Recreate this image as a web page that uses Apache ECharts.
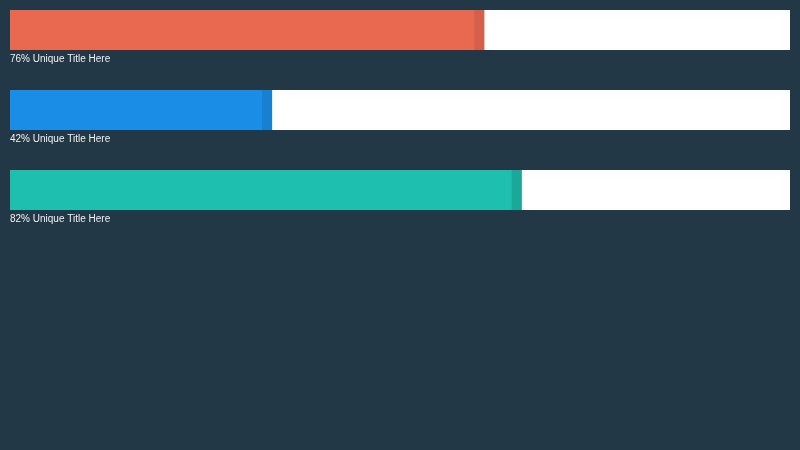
<!DOCTYPE html>
<html>
<head>
<meta charset="utf-8">
<script src="https://cdn.jsdelivr.net/npm/echarts@6/dist/echarts.min.js"></script>
<style>
html,body{margin:0;padding:0;background:#233847;}
#chart{width:800px;height:450px;}
</style>
</head>
<body>
<div id="chart"></div>
<script>
const categories = ['Item A', 'Item B', 'Item C'];
const titles = ['Unique Title Here', 'Unique Title Here', 'Unique Title Here'];
const values = [76, 42, 82];
const barColors = ['#E8694F', '#1A8EE6', '#1EBFAE'];
const capColors = ['#D5604A', '#1780D0', '#1BA899'];
const axisMax = 125;

const chart = echarts.init(document.getElementById('chart'));
chart.setOption({
  backgroundColor: '#233847',
  animation: false,
  grid: { left: 10, right: 10, top: -10, height: 240, containLabel: false, outerBoundsMode: 'none' },
  xAxis: { type: 'value', min: 0, max: axisMax, show: false },
  yAxis: { type: 'category', data: categories, inverse: true, show: false },
  series: [
    {
      type: 'bar',
      barWidth: 40,
      showBackground: true,
      backgroundStyle: { color: '#FFFFFF' },
      data: values.map((v, i) => ({ value: v, itemStyle: { color: barColors[i] } })),
      label: {
        show: true,
        position: [0, 49],
        align: 'left',
        verticalAlign: 'middle',
        color: '#F0F0F0',
        fontSize: 10,
        fontFamily: 'Liberation Sans, Arial, sans-serif',
        formatter: p => p.value + '% ' + titles[p.dataIndex]
      }
    },
    {
      type: 'custom',
      renderItem: function (params, api) {
        const end = api.coord([api.value(0), api.value(1)]);
        return {
          type: 'rect',
          shape: { x: end[0] - 10, y: end[1] - 20, width: 10, height: 40 },
          style: { fill: capColors[params.dataIndex] }
        };
      },
      encode: { x: 0, y: 1 },
      data: values.map((v, i) => [v, i]),
      z: 3
    }
  ]
});
</script>
</body>
</html>
